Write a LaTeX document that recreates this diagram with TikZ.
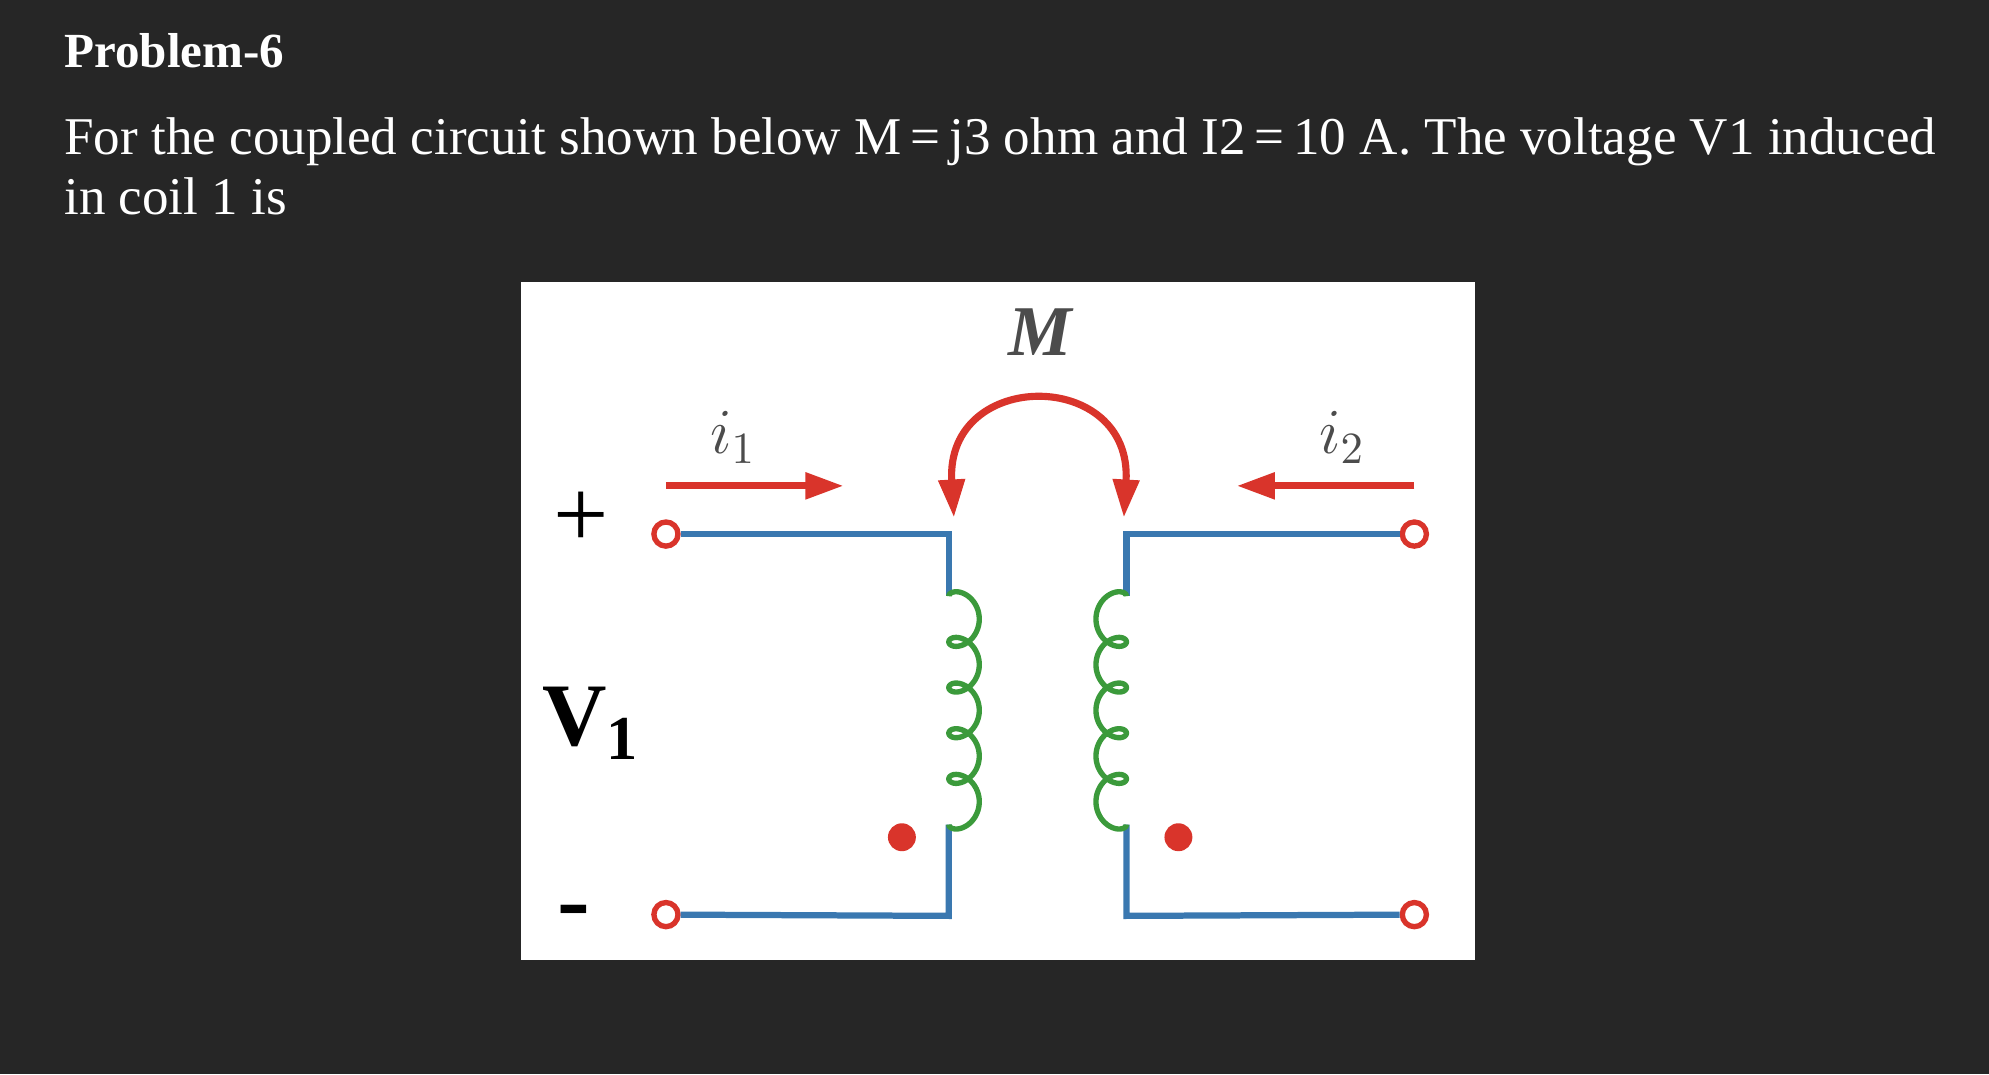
\documentclass[tikz,border=0pt]{standalone}
\usepackage{fontspec}
\setmainfont{Liberation Serif}
\usetikzlibrary{arrows.meta}
\definecolor{bg}{HTML}{262626}
\definecolor{wire}{HTML}{3A78B0}
\definecolor{rd}{HTML}{D9342B}
\definecolor{cg}{HTML}{3B9A3B}
\tikzset{wirel/.style={wire,line width=1.4pt},
term/.style={circle,draw=rd,fill=white,line width=1.2pt,minimum size=0.19cm,inner sep=0pt},
cur/.style={rd,line width=1.6pt,-{Triangle[length=0.3cm,width=0.2cm]}},
dotn/.style={circle,fill=rd,minimum size=0.22cm,inner sep=0pt}}
\begin{document}
\begin{tikzpicture}[x=0.01cm,y=-0.01cm]
\fill[bg] (0,0) rectangle (1568,847);
\useasboundingbox (0,0) rectangle (1568,847);
\node[anchor=west,text=white,inner sep=0pt,font=\fontsize{11}{13}\selectfont\bfseries] (title) at (50,40) {Problem-6};
\node[anchor=north west,text=white,align=left,font=\fontsize{11.9}{13.5}\selectfont,inner sep=0pt] (q) at (50,92) {For the coupled circuit shown below M\,=\,j3 ohm and I2\,=\,10 A. The voltage V1 induced\\in coil 1 is};
\fill[white] (411,222) rectangle (1163,757);
\node[term] (a) at (525,421) {};
\node[term] (b) at (525,721) {};
\node[term] (c) at (1115,421) {};
\node[term] (d) at (1115,721) {};
\coordinate (l1) at (748,470); \coordinate (l2) at (748,650);
\coordinate (r1) at (888,470); \coordinate (r2) at (888,650);
\draw[wirel] (a) -- (748,421) -- (l1);
\draw[wirel] (l2) -- (748,722) -- (b);
\draw[wirel] (c) -- (888,421) -- (r1);
\draw[wirel] (r2) -- (888,722) -- (d);
\draw[cg,line width=1.2pt] plot[domain=0:1800,samples=300,smooth] ({748+12*(1-cos(\x))},{470+\x/10-11*sin(\x)});
\draw[cg,line width=1.2pt] plot[domain=0:1800,samples=300,smooth] ({888-12*(1-cos(\x))},{470+\x/10-11*sin(\x)});
\node[dotn] (d1) at (711,660) {};
\node[dotn] (d2) at (929,660) {};
\coordinate (i1s) at (525,383); \coordinate (i1e) at (665,383);
\coordinate (i2s) at (1115,383); \coordinate (i2e) at (975,383);
\draw[cur] (i1s) -- (i1e);
\draw[cur] (i2s) -- (i2e);
\coordinate (ms) at (752,408); \coordinate (me) at (886,408);
\draw[rd,line width=1.6pt,{Triangle[length=0.3cm,width=0.2cm]}-{Triangle[length=0.3cm,width=0.2cm]}] (ms) .. controls (745,290) and (893,290) .. (me);
\node[font=\fontsize{16}{18}\selectfont\itshape\bfseries,text=black!70] (M) at (820,262) {M};
\node[font=\fontsize{14}{16}\selectfont,text=black!70] (il1) at (578,345) {$i_1$};
\node[font=\fontsize{14}{16}\selectfont,text=black!70] (il2) at (1058,345) {$i_2$};
\node[font=\fontsize{22}{24}\selectfont] (plus) at (458,410) {+};
\node[font=\fontsize{20}{22}\selectfont\bfseries] (v1) at (466,570) {V\textsubscript{1}};
\node[font=\fontsize{22}{24}\selectfont\bfseries] (minus) at (452,724) {-};
\end{tikzpicture}
\end{document}
